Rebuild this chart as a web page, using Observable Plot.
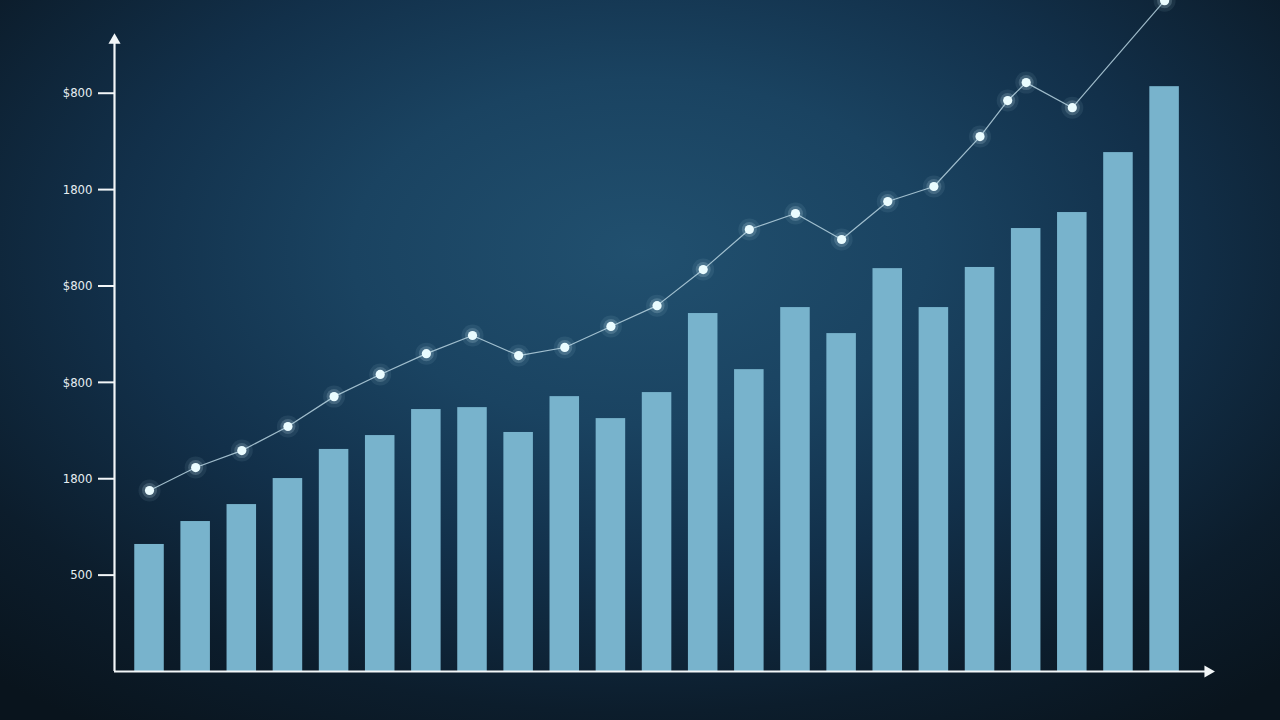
<!DOCTYPE html>
<html>
<head>
<meta charset="utf-8">
<script src="https://cdn.jsdelivr.net/npm/d3@7"></script>
<script src="https://cdn.jsdelivr.net/npm/@observablehq/plot@0.6"></script>
<style>
  html, body { margin: 0; padding: 0; width: 1280px; height: 720px; overflow: hidden; }
  body {
    background: radial-gradient(ellipse 75% 80% at 50% 35%, #21506f 0%, #1a4361 30%, #12304a 55%, #0c1d2c 80%, #09141d 100%);
  }
  #chart svg { display: block; }
</style>
</head>
<body>
<div id="chart"></div>
<script>
// Bars (one per period, index 0..22)
const barValues = [659, 778, 866, 1001, 1152, 1224, 1359, 1369, 1240, 1426, 1312, 1447,
                   1857, 1566, 1888, 1753, 2090, 1888, 2096, 2298, 2381, 2692, 3034];
// Line series: position (in period units) and value
const lineX = [0, 1, 2, 3, 4, 5, 6, 7, 8, 9, 10, 11, 12, 13, 14, 15, 16, 17, 18, 18.6, 19, 20, 22];
const lineValues = [939, 1058, 1146, 1271, 1426, 1541, 1649, 1743, 1639, 1681, 1790, 1898,
                    2085, 2293, 2376, 2241, 2438, 2516, 2775, 2962, 3055, 2925, 3480];
// Y tick values and their printed labels
const tickValues = [500, 1000, 1500, 2000, 2500, 3000];
const tickLabels = ["500", "1800", "$800", "$800", "1800", "$800"];

const bars = barValues.map((v, i) => ({i, v}));
const line = lineX.map((x, k) => ({x, v: lineValues[k]}));

const xMin = -0.759, xMax = 23.06, yMax = 3481, yArrow = 3315;
const halfBar = 0.32;

const chart = Plot.plot({
  width: 1280,
  height: 720,
  marginLeft: 114,
  marginRight: 67,
  marginTop: 0,
  marginBottom: 49,
  style: {background: "transparent", overflow: "visible"},
  x: {domain: [xMin, xMax], axis: null},
  y: {domain: [0, yMax]},
  marks: [
    Plot.rectY(bars, {x1: d => d.i - halfBar, x2: d => d.i + halfBar, y: "v", fill: "#78b3cc"}),
    Plot.line(line, {x: "x", y: "v", stroke: "#b7d3e0", strokeWidth: 1.2, strokeOpacity: 0.85}),
    Plot.dot(line, {x: "x", y: "v", r: 11, fill: "#cfefff", fillOpacity: 0.08, stroke: "none"}),
    Plot.dot(line, {x: "x", y: "v", r: 7.5, fill: "#d8f6ff", fillOpacity: 0.18, stroke: "none"}),
    Plot.dot(line, {x: "x", y: "v", r: 4.6, fill: "#eafcff", stroke: "none"}),
    Plot.ruleY([0], {x1: xMin, x2: xMax - 0.12, stroke: "#f2f6f8", strokeWidth: 2.2}),
    Plot.ruleX([xMin], {y1: 0, y2: yArrow - 40, stroke: "#f2f6f8", strokeWidth: 2.2}),
    Plot.dot([[xMax - 0.12, 0]], {symbol: "triangle", r: 4.5, rotate: 90, fill: "#f2f6f8", stroke: "none"}),
    Plot.dot([[xMin, yArrow - 40]], {symbol: "triangle", r: 4.5, fill: "#f2f6f8", stroke: "none"}),
    Plot.axisY({
      ticks: tickValues,
      tickFormat: (d) => tickLabels[tickValues.indexOf(d)],
      tickSize: 16,
      tickPadding: 6,
      stroke: "#f2f6f8",
      strokeWidth: 2,
      color: "#e6eef2",
      fontSize: 13,
      fontFamily: "DejaVu Sans Condensed",
      label: null
    })
  ]
});
document.getElementById("chart").appendChild(chart);
</script>
</body>
</html>
